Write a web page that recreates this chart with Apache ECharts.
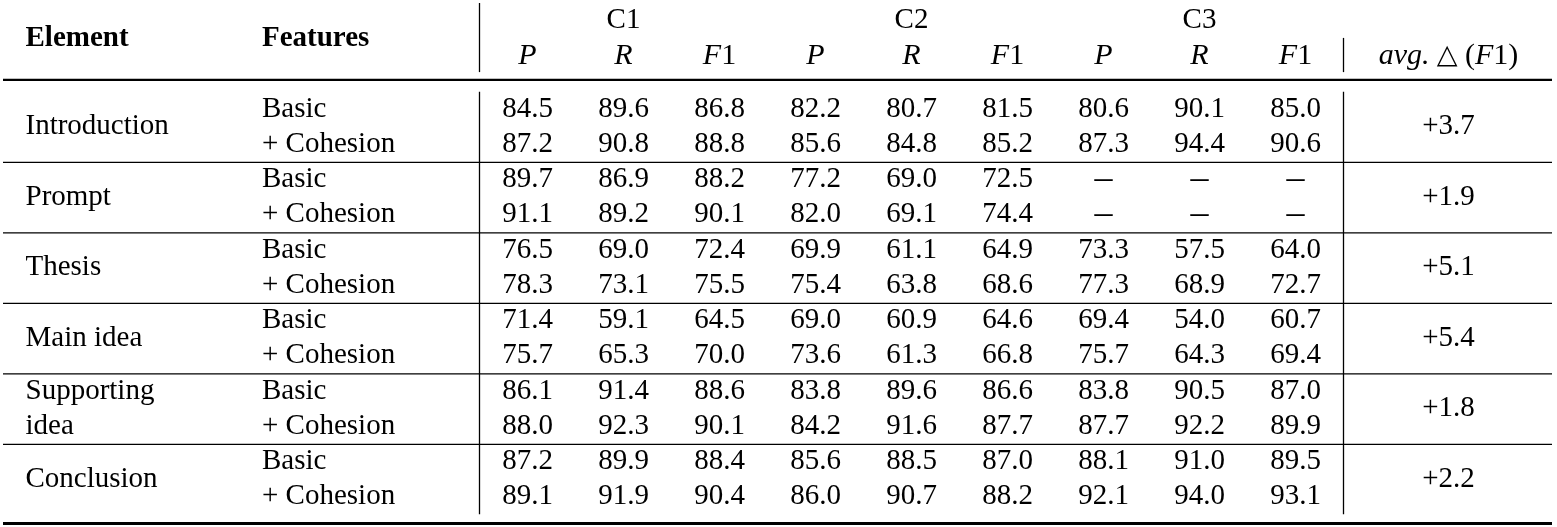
<!DOCTYPE html>
<html>
<head>
<meta charset="utf-8">
<script src="https://cdn.jsdelivr.net/npm/echarts@6/dist/echarts.min.js"></script>
<style>
html, body { margin: 0; padding: 0; background: #fff; }
#main { width: 1557px; height: 527px; }
</style>
</head>
<body>
<div id="main"></div>
<script>
var elements = ['Introduction', 'Prompt', 'Thesis', 'Main idea', 'Supporting\nidea', 'Conclusion'];
var features = ['Basic', '+ Cohesion'];
var corpora = ['C1', 'C2', 'C3'];
var metrics = ['P', 'R', 'F1'];
// C1 P R F1, C2 P R F1, C3 P R F1 (null = no result)
var basicScores = [
    [84.5, 89.6, 86.8, 82.2, 80.7, 81.5, 80.6, 90.1, 85.0],
    [89.7, 86.9, 88.2, 77.2, 69.0, 72.5, null, null, null],
    [76.5, 69.0, 72.4, 69.9, 61.1, 64.9, 73.3, 57.5, 64.0],
    [71.4, 59.1, 64.5, 69.0, 60.9, 64.6, 69.4, 54.0, 60.7],
    [86.1, 91.4, 88.6, 83.8, 89.6, 86.6, 83.8, 90.5, 87.0],
    [87.2, 89.9, 88.4, 85.6, 88.5, 87.0, 88.1, 91.0, 89.5]
];
var cohesionScores = [
    [87.2, 90.8, 88.8, 85.6, 84.8, 85.2, 87.3, 94.4, 90.6],
    [91.1, 89.2, 90.1, 82.0, 69.1, 74.4, null, null, null],
    [78.3, 73.1, 75.5, 75.4, 63.8, 68.6, 77.3, 68.9, 72.7],
    [75.7, 65.3, 70.0, 73.6, 61.3, 66.8, 75.7, 64.3, 69.4],
    [88.0, 92.3, 90.1, 84.2, 91.6, 87.7, 87.7, 92.2, 89.9],
    [89.1, 91.9, 90.4, 86.0, 90.7, 88.2, 92.1, 94.0, 93.1]
];
var avgDeltaF1 = [3.7, 1.9, 5.1, 5.4, 1.8, 2.2];

// layout: x in page columns, y in table lines (data line 0 = first "Basic")
var W = 1557, H = 527;
var rowStep = 35.25, rowOrigin = 107;
var colElement = 25.5, colFeatures = 262;
var scoreCol0 = 527.5, scoreStep = 96;
var colAvg = 1448.5;
var sepLeft = 479.5, sepAvg = 1343.5;
var tableLeft = 3, tableRight = 1552;
var rowCorpus = -2.5, rowMetric = -1.5, rowHead = -2.0;
var textNudge = 2; // px, canvas middle sits a bit high for this font

var FONT = '"Liberation Serif", "Times New Roman", "DejaVu Serif", serif';
var FS = 29;

function scoreX(i) { return scoreCol0 + scoreStep * i; }
function fmt(v) { return v == null ? '{d|\u2013}' : v.toFixed(1); }

var mathRich = {
    i: {fontFamily: FONT, fontSize: 30, fontStyle: 'italic', fill: '#000'},
    n: {fontFamily: FONT, fontSize: 30, fill: '#000'},
    t: {fontFamily: '"DejaVu Sans", sans-serif', fontSize: 27, fill: '#000'},
    d: {fontFamily: FONT, fontSize: 36, fill: '#000'}
};

var cells = [];
function cell(x, y, text, opt) {
    opt = opt || {};
    cells.push({x: x, y: y, text: text, align: opt.align || 'center',
        weight: opt.weight || 'normal', style: opt.style || 'normal'});
}

cell(colElement, rowHead, 'Element', {align: 'left', weight: 'bold'});
cell(colFeatures, rowHead, 'Features', {align: 'left', weight: 'bold'});
corpora.forEach(function (c, i) { cell(scoreX(3 * i + 1), rowCorpus, c); });
for (var i = 0; i < 9; i++) {
    var m = metrics[i % 3];
    cell(scoreX(i), rowMetric, m === 'F1' ? '{i|F}{n|1}' : '{i|' + m + '}');
}
cell(colAvg, rowMetric, '{i|avg.} {t|\u25B3} {n|(}{i|F}{n|1)}');

elements.forEach(function (el, g) {
    cell(colElement, 2 * g + 0.5, el, {align: 'left'});
    cell(colFeatures, 2 * g, features[0], {align: 'left'});
    cell(colFeatures, 2 * g + 1, features[1], {align: 'left'});
    for (var k = 0; k < 9; k++) {
        cell(scoreX(k), 2 * g, fmt(basicScores[g][k]));
        cell(scoreX(k), 2 * g + 1, fmt(cohesionScores[g][k]));
    }
    cell(colAvg, 2 * g + 0.5, '+' + avgDeltaF1[g].toFixed(1));
});

// rules: [x1, y1, x2, y2, width]
var rules = [];
rules.push([tableLeft, -0.77, tableRight, -0.77, 2.2]);
for (var g = 0; g < elements.length - 1; g++) {
    rules.push([tableLeft, 2 * g + 1.57, tableRight, 2 * g + 1.57, 1.3]);
}
rules.push([tableLeft, 11.815, tableRight, 11.815, 3.2]);
rules.push([sepLeft, -2.95, sepLeft, -0.99, 1.3]);
rules.push([sepLeft, -0.43, sepLeft, 11.55, 1.3]);
rules.push([sepAvg, -1.96, sepAvg, -0.99, 1.3]);
rules.push([sepAvg, -0.43, sepAvg, 11.55, 1.3]);

var myChart = echarts.init(document.getElementById('main'), null, {renderer: 'canvas'});

var option = {
    backgroundColor: '#fff',
    animation: false,
    grid: {left: 0, right: 0, top: 0, bottom: 0},
    xAxis: {type: 'value', min: 0, max: W, show: false},
    yAxis: {
        type: 'value', inverse: true, show: false,
        min: -rowOrigin / rowStep, max: (H - rowOrigin) / rowStep
    },
    series: [{
        type: 'custom',
        data: rules,
        renderItem: function (params, api) {
            var p1 = api.coord([api.value(0), api.value(1)]);
            var p2 = api.coord([api.value(2), api.value(3)]);
            return {
                type: 'line',
                shape: {x1: p1[0], y1: p1[1], x2: p2[0], y2: p2[1]},
                style: {stroke: '#000', lineWidth: api.value(4)}
            };
        }
    }, {
        type: 'custom',
        data: cells.map(function (c) { return [c.x, c.y]; }),
        renderItem: function (params, api) {
            var c = cells[params.dataIndex];
            var pt = api.coord([api.value(0), api.value(1)]);
            return {
                type: 'text',
                x: pt[0],
                y: pt[1] + textNudge,
                style: {
                    text: c.text,
                    fill: '#000',
                    fontFamily: FONT,
                    fontSize: FS,
                    fontWeight: c.weight,
                    fontStyle: c.style,
                    align: c.align,
                    verticalAlign: 'middle',
                    lineHeight: rowStep,
                    rich: mathRich
                }
            };
        }
    }]
};

myChart.setOption(option);
window.addEventListener('resize', function () {
    myChart.resize();
});
</script>
</body>
</html>
